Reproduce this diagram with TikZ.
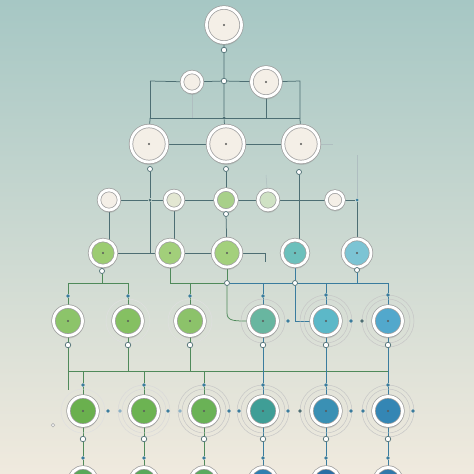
\documentclass[tikz,border=0pt]{standalone}
\usetikzlibrary{shadows,backgrounds}

\definecolor{bgtop}{HTML}{A6C7C4}
\definecolor{bgmid}{HTML}{D3DCD1}
\definecolor{bgbot}{HTML}{F0EADE}
\definecolor{cream}{HTML}{F4EFE7}
\definecolor{slate}{HTML}{4D6E73}
\definecolor{leaf}{HTML}{4F8A5A}
\definecolor{sea}{HTML}{3A7C9E}

\begin{document}
\begin{tikzpicture}[x=1pt,y=-1pt,
    ball/.style={circle, draw=gray!75, line width=0.75pt, double=white, double distance=2.8pt,
                 inner sep=0pt, drop shadow={opacity=0.28, shadow xshift=0.4pt, shadow yshift=-3pt}},
    core/.style={ball, path picture={\fill[black!65] (path picture bounding box.center) circle (1.1pt);}},
    joint/.style={circle, draw=slate, fill=white, line width=0.7pt, inner sep=0pt, minimum size=5.5pt},
    pin/.style={circle, fill=sea, inner sep=0pt, minimum size=3.6pt},
    wire/.style={slate, line width=0.75pt},
    gwire/.style={leaf, line width=0.75pt},
    bwire/.style={sea, line width=0.75pt},
    faint/.style={slate!45, line width=0.5pt},
    halo/.style={gray!45, line width=0.5pt}]

    \useasboundingbox (0,0) rectangle (474,474);
    \clip (0,0) rectangle (474,474);

    %row 0 and 1
    \node[core, fill=cream, minimum size=35] (root) at (224,25) {};
    \node[ball, fill=cream, minimum size=20] (r1a) at (192,82) {};
    \node[core, fill=cream, minimum size=29] (r1b) at (266,82) {};

    %row 2
    \node[core, fill=cream, minimum size=36] (r2a) at (149,144) {};
    \node[core, fill=cream, minimum size=36] (r2b) at (226,144) {};
    \node[core, fill=cream, minimum size=36] (r2c) at (301,144) {};

    %row 3
    \node[ball, fill=cream, minimum size=20] (r3a) at (109,200) {};
    \node[ball, fill={rgb,255:red,227;green,231;blue,210}, minimum size=18] (r3b) at (174,200) {};
    \node[ball, fill={rgb,255:red,168;green,208;blue,138}, minimum size=21] (r3c) at (226,200) {};
    \node[ball, fill={rgb,255:red,207;green,226;blue,196}, minimum size=20] (r3d) at (268,200) {};
    \node[ball, fill=cream, minimum size=17] (r3e) at (335,200) {};

    %row 4
    \node[core, fill={rgb,255:red,156;green,204;blue,114}, minimum size=26] (r4a) at (103,253) {};
    \node[core, fill={rgb,255:red,162;green,207;blue,122}, minimum size=26] (r4b) at (170,253) {};
    \node[core, fill={rgb,255:red,163;green,208;blue,124}, minimum size=28] (r4c) at (227,253) {};
    \node[core, fill={rgb,255:red,108;green,192;blue,188}, minimum size=26] (r4d) at (295,253) {};
    \node[core, fill={rgb,255:red,124;green,196;blue,212}, minimum size=28] (r4e) at (357,253) {};

    %row 5
    \node[core, fill={rgb,255:red,140;green,196;blue,106}, minimum size=29] (r5a) at (68,321) {};
    \node[core, fill={rgb,255:red,133;green,192;blue,98},  minimum size=29] (r5b) at (128,321) {};
    \node[core, fill={rgb,255:red,140;green,194;blue,106}, minimum size=29] (r5c) at (190,321) {};
    \node[core, fill={rgb,255:red,104;green,182;blue,160}, minimum size=29] (r5d) at (263,321) {};
    \node[core, fill={rgb,255:red,92;green,184;blue,200},  minimum size=29] (r5e) at (326,321) {};
    \node[core, fill={rgb,255:red,82;green,168;blue,204},  minimum size=29] (r5f) at (388,321) {};

    %row 6
    \node[core, fill={rgb,255:red,106;green,176;blue,78},  minimum size=29] (r6a) at (83,411) {};
    \node[core, fill={rgb,255:red,108;green,179;blue,82},  minimum size=29] (r6b) at (144,411) {};
    \node[core, fill={rgb,255:red,106;green,178;blue,86},  minimum size=29] (r6c) at (204,411) {};
    \node[core, fill={rgb,255:red,63;green,158;blue,150},  minimum size=29] (r6d) at (263,411) {};
    \node[core, fill={rgb,255:red,58;green,144;blue,180},  minimum size=29] (r6e) at (326,411) {};
    \node[core, fill={rgb,255:red,52;green,134;blue,180},  minimum size=29] (r6f) at (388,411) {};

    %row 7, cut by the lower edge
    \node[ball, fill={rgb,255:red,90;green,168;blue,90},  minimum size=27] (r7a) at (83,481) {};
    \node[ball, fill={rgb,255:red,90;green,168;blue,90},  minimum size=27] (r7b) at (144,481) {};
    \node[ball, fill={rgb,255:red,92;green,170;blue,96},  minimum size=27] (r7c) at (204,481) {};
    \node[ball, fill={rgb,255:red,47;green,127;blue,176}, minimum size=27] (r7d) at (263,481) {};
    \node[ball, fill={rgb,255:red,42;green,111;blue,165}, minimum size=27] (r7e) at (326,481) {};
    \node[ball, fill={rgb,255:red,48;green,121;blue,171}, minimum size=27] (r7f) at (388,481) {};

    %halos
    \draw[halo, gray!25] (r5b) circle (22);
    \draw[halo, gray!25] (r5c) circle (22);
    \draw[halo] (r5d) circle (22);
    \draw[halo] (r5e) circle (22) (r5e) circle (26);
    \draw[halo] (r5f) circle (22) (r5f) circle (26);
    \draw[halo, gray!25] (r6a) circle (22);
    \draw[halo, gray!30] (r6b) circle (22) (r6b) circle (26);
    \draw[halo] (r6c) circle (22) (r6c) circle (26);
    \draw[halo] (r6d) circle (22) (r6d) circle (26);
    \draw[halo] (r6e) circle (22) (r6e) circle (26);
    \draw[halo] (r6f) circle (22) (r6f) circle (26);

    %joints
    \node[joint] (j0) at (224,50) {};
    \node[joint] (j1) at (224,81) {};
    \coordinate (b1l) at (150,81);
    \coordinate (b1r) at (300,81);
    \coordinate (b2l) at (150,118);
    \coordinate (b2r) at (300,118);
    \node[pin, fill=slate, minimum size=3pt] (b2m) at (224,118) {};
    \node[joint, minimum size=5pt] (j2a) at (150,169) {};
    \node[joint, minimum size=5pt] (j2b) at (226,169) {};
    \node[joint, minimum size=5pt] (j2c) at (299,172) {};
    \node[pin, fill=slate, minimum size=3pt] (d3a) at (150,200) {};
    \node[pin, minimum size=3pt] (d3e) at (357,200) {};
    \node[joint, minimum size=5pt] (j3c) at (226,214) {};
    \node[joint, minimum size=5pt] (j4a) at (102,271) {};
    \node[joint, minimum size=5pt] (j4c) at (227,283) {};
    \node[joint, minimum size=5pt] (j4d) at (295,283) {};
    \node[joint, minimum size=5pt] (j4e) at (357,270) {};
    \coordinate (b4l) at (68,283);
    \coordinate (b4r) at (388,283);
    \coordinate (b4m) at (170,283);
    \node[pin] (p5a) at (68,296) {};
    \node[pin] (p5b) at (128,296) {};
    \node[pin] (p5c) at (190,296) {};
    \node[pin] (p5d) at (263,296) {};
    \node[pin] (p5e) at (326,295) {};
    \node[pin] (p5f) at (388,295) {};
    \node[joint] (j5a) at (68,345) {};
    \node[joint] (j5b) at (128,345) {};
    \node[joint] (j5c) at (190,345) {};
    \node[joint] (j5d) at (263,345) {};
    \node[joint] (j5e) at (326,345) {};
    \node[joint] (j5f) at (388,345) {};
    \coordinate (b5l) at (68,371);
    \coordinate (b5r) at (388,371);
    \node[pin] (p6a) at (83,385) {};
    \node[pin] (p6b) at (144,385) {};
    \node[pin] (p6c) at (204,385) {};
    \node[pin] (p6d) at (263,385) {};
    \node[pin] (p6e) at (326,385) {};
    \node[pin] (p6f) at (388,385) {};
    \node[joint] (j6a) at (83,439) {};
    \node[joint] (j6b) at (144,439) {};
    \node[joint] (j6c) at (204,439) {};
    \node[joint] (j6d) at (263,439) {};
    \node[joint] (j6e) at (326,439) {};
    \node[joint] (j6f) at (388,439) {};
    \node[pin] (q6a) at (83,458) {};
    \node[pin] (q6b) at (144,458) {};
    \node[pin] (q6c) at (204,458) {};
    \node[pin] (q6d) at (263,458) {};
    \node[pin] (q6e) at (326,458) {};
    \node[pin] (q6f) at (388,458) {};

    %side pins
    \node[pin] (s5d) at (288,321) {};
    \node[pin] (s5e) at (351,321) {};
    \node[pin, fill=slate] (s5f) at (362,321) {};
    \node[pin] (s6a) at (108,411) {};
    \node[pin, fill=sea!60] (t6b) at (120,411) {};
    \node[pin] (s6b) at (168,411) {};
    \node[pin, fill=sea!60] (t6c) at (180,411) {};
    \node[pin] (s6c) at (229,411) {};
    \node[pin] (t6d) at (239,411) {};
    \node[pin] (s6d) at (288,411) {};
    \node[pin, fill=slate] (t6e) at (300,411) {};
    \node[pin] (s6e) at (351,411) {};
    \node[pin] (t6f) at (363,411) {};
    \node[pin] (s6f) at (413,411) {};
    \node[joint, draw=gray!60, minimum size=3.5pt] (stray) at (53,425) {};

    \begin{pgfonlayer}{background}
    \shade[top color=bgtop, middle color=bgmid, bottom color=bgbot] (0,0) rectangle (474,474);

    %top part
    \draw[wire] (root) -- (j0) -- (j1) -- (b2m) -- (r2b);
    \draw[wire] (b1l) -- (r1a) -- (j1) -- (r1b) -- (b1r) -- (b2r);
    \draw[wire] (b1l) -- (b2l) -- (b2r);
    \draw[wire] (r1b) -- (266,118);
    \draw[faint] (r1a) -- (192,118);
    \draw[wire] (b2l) -- (r2a);
    \draw[wire] (b2r) -- (r2c);
    \draw[wire] (r2a) -- (r2b) -- (r2c);
    \draw[faint] (r2c.east) -- (333,144);

    %row 2 to 4
    \draw[wire] (j2a) -- (d3a) -- (150,253);
    \draw[wire] (j2b) -- (r3c);
    \draw[wire] (j2c) -- (299,240);
    \draw[faint] (266,175) -- (r3d);
    \draw[faint] (357,155) -- (d3e);
    \draw[wire] (d3e) -- (r4e);
    \draw[wire] (r3a) -- (d3a) -- (r3b) -- (r3c) -- (r3d) -- (r3e) -- (d3e);
    \draw[wire] (r3a) -- (r3a |- r4a.north);
    \draw[wire] (r3b) -- (r3b |- r4b.north);
    \draw[wire] (j3c) -- (r4c);
    \draw[wire] (r4a) -- (r4b) -- (r4c) -- (265,253) -- (265,262);

    %row 4 to 5
    \draw[gwire] (j4a) -- (102,283);
    \draw[gwire] (b4l) -- (128,283);
    \draw[gwire] (b4l) -- (p5a) -- (r5a);
    \draw[gwire] (128,283) -- (p5b) -- (r5b);
    \draw[gwire] (r4b) -- (b4m) -- (j4c);
    \draw[bwire] (j4c) -- (b4r);
    \draw[gwire] (190,283) -- (p5c) -- (r5c);
    \draw[bwire] (263,283) -- (p5d) -- (r5d);
    \draw[bwire] (326,283) -- (p5e) -- (r5e);
    \draw[bwire] (b4r) -- (p5f) -- (r5f);
    \draw[gwire] (r4c) -- (j4c);
    \draw[bwire] (r4d) -- (j4d);
    \draw[bwire] (r4e) -- (j4e) -- (357,283);
    \draw[gwire] (j4c) -- (227,313) .. controls (227,321) and (234,321) .. (r5d.west);
    \draw[bwire] (j4d) -- (295,321) -- (r5e.west);

    %row 5 to 6
    \draw[gwire] (r5a) -- (j5a) -- (68,390);
    \draw[gwire] (r5b) -- (j5b) -- (128,371);
    \draw[gwire] (r5c) -- (j5c) -- (190,371);
    \draw[gwire] (b5l) -- (b5r);
    \draw[gwire] (83,371) -- (p6a) -- (r6a);
    \draw[gwire] (144,371) -- (p6b) -- (r6b);
    \draw[gwire] (204,371) -- (p6c) -- (r6c);
    \draw[bwire] (r5d) -- (j5d) -- (p6d) -- (r6d);
    \draw[bwire] (r5e) -- (j5e) -- (p6e) -- (r6e);
    \draw[bwire] (r5f) -- (j5f) -- (p6f) -- (r6f);

    %row 6 to 7
    \draw[gwire] (r6a) -- (j6a) -- (q6a) -- (r7a);
    \draw[gwire] (r6b) -- (j6b) -- (q6b) -- (r7b);
    \draw[gwire] (r6c) -- (j6c) -- (q6c) -- (r7c);
    \draw[bwire] (r6d) -- (j6d) -- (q6d) -- (r7d);
    \draw[bwire] (r6e) -- (j6e) -- (q6e) -- (r7e);
    \draw[bwire] (r6f) -- (j6f) -- (q6f) -- (r7f);
    \end{pgfonlayer}

\end{tikzpicture}
\end{document}
